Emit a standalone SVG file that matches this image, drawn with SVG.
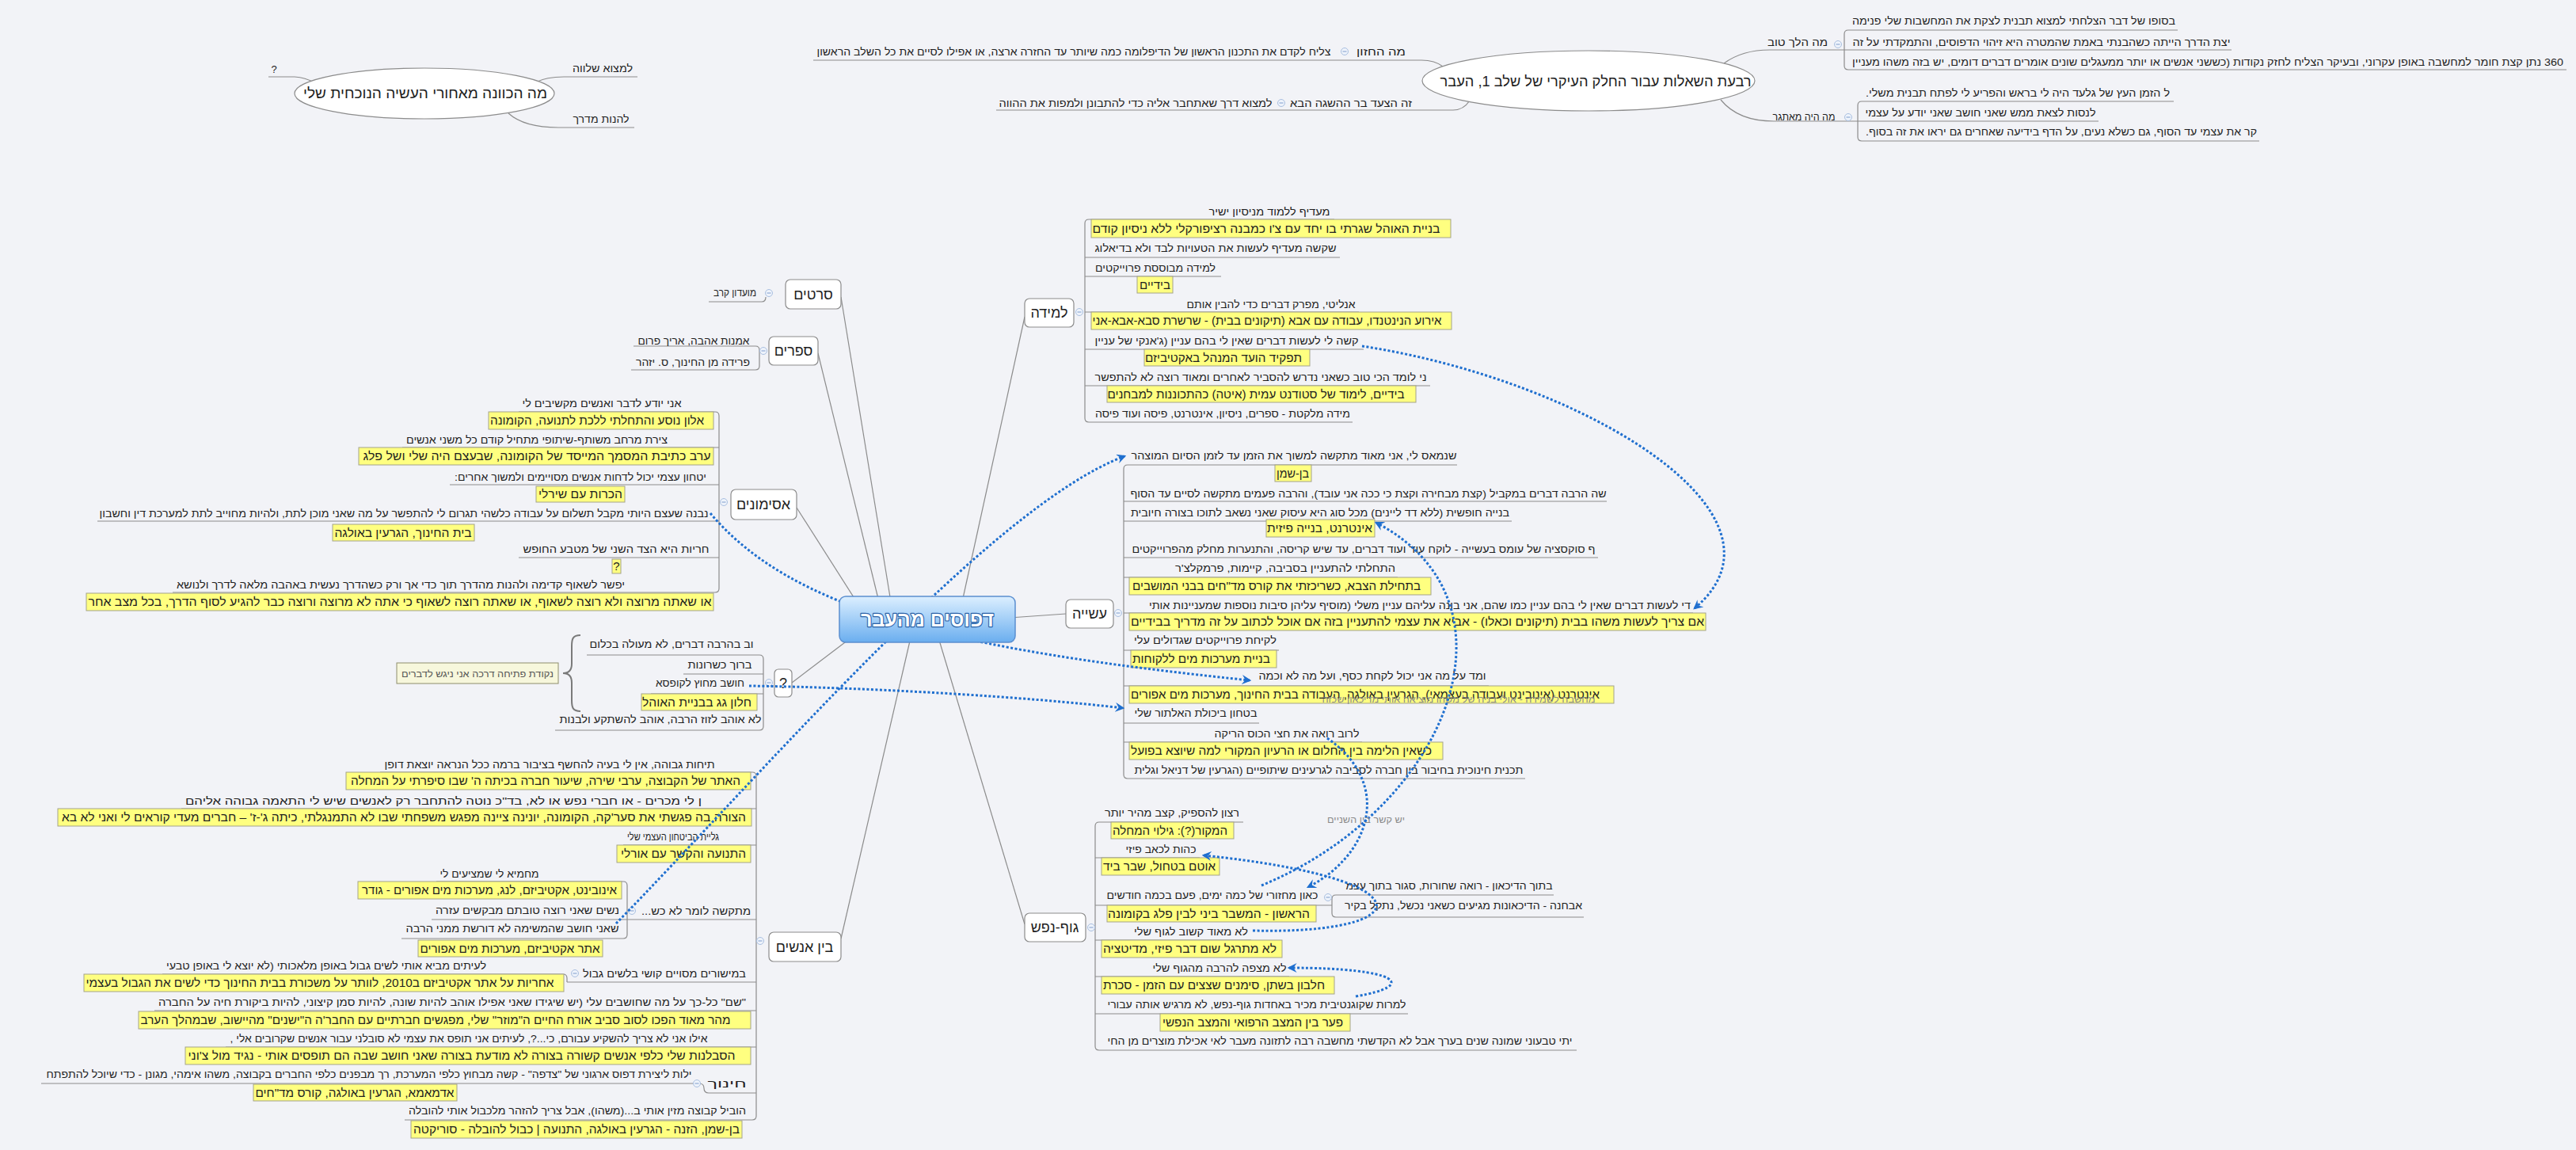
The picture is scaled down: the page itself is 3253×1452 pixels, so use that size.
<svg xmlns="http://www.w3.org/2000/svg" width="3253" height="1452" viewBox="0 0 3253 1452">
<defs>
<linearGradient id="cg" x1="0" y1="0" x2="0" y2="1">
<stop offset="0" stop-color="#dcefff"/><stop offset="1" stop-color="#6aaeef"/>
</linearGradient>
<marker id="ah" viewBox="0 0 10 10" refX="8" refY="5" markerWidth="12" markerHeight="12" markerUnits="userSpaceOnUse" orient="auto"><path d="M0,0 L10,5 L0,10 L3.5,5 Z" fill="#1f6fcf"/></marker>
<style>
.t{font-family:"Liberation Sans",Arial,sans-serif;font-size:13px;fill:#1e1e1e;text-anchor:middle;direction:rtl}
.ty{font-size:15px}
.tn{font-size:18px}
.yb{fill:#ffff80;stroke:#a3a38a;stroke-width:1}
.ul{stroke:#8c8c8c;stroke-width:1.2;fill:none}
.nb{fill:#fff;stroke:#8c8c8c;stroke-width:1.2}
.cc{fill:#eef3fb;stroke:#a9bfe0;stroke-width:1}
.ccm{stroke:#7f9ccc;stroke-width:1}
.rel{stroke:#1f6fcf;stroke-width:3;stroke-dasharray:3 2.5;fill:none}
</style>
</defs>
<rect width="3253" height="1452" fill="#f2f3f7"/>

<!-- branch lines from center -->
<g id="branch-lines" class="ul">
<path d="M1125 760 L1062 375"/>
<path d="M1110 760 L1033 446"/>
<path d="M1085 765 L1006 641"/>
<path d="M1075 805 L1000 862"/>
<path d="M1150 805 L1062 1185"/>
<path d="M1215 760 L1294 400"/>
<path d="M1275 780 L1346 775"/>
<path d="M1185 805 L1294 1167"/>
</g>

<!-- top-left ellipse -->
<g id="q-intent">
<path class="ul" d="M676 104 Q690 97 712 97 L805 97"/>
<path class="ul" d="M642 143 Q662 161 705 161 L801 161"/>
<path class="ul" d="M339 97 L372 97 Q386 98 396 104"/>
<ellipse cx="536" cy="118" rx="164" ry="32" fill="#fff" stroke="#8c8c8c" stroke-width="1.2"/>
<text class="t tn" x="537" y="124" textLength="308" lengthAdjust="spacingAndGlyphs">מה הכוונה מאחורי העשיה הנוכחית שלי</text>
<text class="t" x="761" y="90.5" textLength="76" lengthAdjust="spacingAndGlyphs">למצוא שלווה</text>
<text class="t" x="759" y="154.5" textLength="71" lengthAdjust="spacingAndGlyphs">להנות מדרך</text>
<text class="t" x="346" y="91.5">?</text>
</g>

<!-- top-center ellipse -->
<g id="q-four">
<path class="ul" d="M1027 76 L1795 76 Q1812 76 1822 84"/>
<path class="ul" d="M1258 139 L1835 139 Q1848 139 1856 127"/>
<path class="ul" d="M2177 80 Q2200 63 2235 63 L2329 63"/>
<path class="ul" d="M2173 126 Q2195 153 2240 153 L2346 153"/>
<ellipse cx="2006" cy="102" rx="210" ry="38" fill="#fff" stroke="#8c8c8c" stroke-width="1.2"/>
<text class="t tn" x="2015" y="109" textLength="393" lengthAdjust="spacingAndGlyphs">רבעת השאלות עבור החלק העיקרי של שלב 1, העבר</text>
<text class="t" x="1744" y="69.5" textLength="62" lengthAdjust="spacingAndGlyphs">מה החזון</text>
<circle class="cc" cx="1698" cy="65" r="4.5"/><path class="ccm" d="M1695.5 65 H1700.5"/>
<text class="t" x="1356" y="69.5" textLength="649" lengthAdjust="spacingAndGlyphs">צליח לקדם את התכנון הראשון של הדיפלומה כמה שיותר עד החזרה ארצה, או אפילו לסיים את כל השלב הראשון</text>
<text class="t" x="1706" y="134.5" textLength="154" lengthAdjust="spacingAndGlyphs">זה הצעד  בר ההשגה הבא</text>
<circle class="cc" cx="1618" cy="130" r="4.5"/><path class="ccm" d="M1615.5 130 H1620.5"/>
<text class="t" x="1434" y="134.5" textLength="345" lengthAdjust="spacingAndGlyphs">למצוא דרך שאתחבר אליה כדי להתבונן ולמפות את ההווה</text>
<path class="ul" d="M2750 38 L2334 38 Q2329 38 2329 43 L2329 83 Q2329 88 2334 88 L3241 88"/>
<path class="ul" d="M2329 63 L2818 63"/>
<text class="t" x="2270" y="57.5" textLength="76" lengthAdjust="spacingAndGlyphs">מה הלך טוב</text>
<circle class="cc" cx="2321" cy="56" r="4.5"/><path class="ccm" d="M2318.5 56 H2323.5"/>
<text class="t" x="2543" y="31" textLength="408" lengthAdjust="spacingAndGlyphs">בסופו של דבר הצלחתי למצוא תבנית לצקת את המחשבות שלי פנימה</text>
<text class="t" x="2578" y="57.5" textLength="477" lengthAdjust="spacingAndGlyphs">יצת הדרך הייתה כשהבנתי באמת שהמטרה היא זיהוי הדפוסים, והתמקדתי על זה</text>
<text class="t" x="2788" y="83" textLength="898" lengthAdjust="spacingAndGlyphs">360 נתן קצת חומר למחשבה באופן עקרוני, ובעיקר הצליח לחזק נקודות (כששני אנשים או יותר ממעגלים שונים אומרים דברים דומים, יש בזה משהו מעניין</text>
<path class="ul" d="M2745 128 L2351 128 Q2346 128 2346 133 L2346 173 Q2346 178 2351 178 L2853 178"/>
<path class="ul" d="M2346 153 L2650 153"/>
<text class="t" x="2278" y="151.5" textLength="79" lengthAdjust="spacingAndGlyphs">מה היה מאתגר</text>
<circle class="cc" cx="2334" cy="148" r="4.5"/><path class="ccm" d="M2331.5 148 H2336.5"/>
<text class="t" x="2548" y="121.5" textLength="384" lengthAdjust="spacingAndGlyphs">ל הזמן העץ של גלעד היה לי בראש והפריע לי לפתח תבנית משלי.</text>
<text class="t" x="2501" y="146.5" textLength="291" lengthAdjust="spacingAndGlyphs">לנסות לצאת ממש שאני חושב שאני יודע על עצמי</text>
<text class="t" x="2603" y="170.5" textLength="494" lengthAdjust="spacingAndGlyphs">קר את עצמי עד הסוף, גם כשלא נעים, על הדף בידיעה שאחרים גם יראו את זה בסוף.</text>
</g>

<!-- סרטים -->
<g id="n-films">
<path class="ul" d="M895 381 L962 381 Q967 381 967 375"/>
<rect class="nb" x="992" y="353" width="70" height="37" rx="6"/>
<text class="t tn" x="1027" y="378">סרטים</text>
<circle class="cc" cx="971" cy="370" r="4.5"/><path class="ccm" d="M968.5 370 H973.5"/>
<text class="t" x="928" y="373.5" textLength="54" lengthAdjust="spacingAndGlyphs">מועדון קרב</text>
</g>

<!-- ספרים -->
<g id="n-books">
<path class="ul" d="M800 437 L954 437 Q959 437 959 442 L959 462 Q959 467 954 467 L797 467"/>
<rect class="nb" x="971" y="425" width="62" height="36" rx="6"/>
<text class="t tn" x="1002" y="449">ספרים</text>
<circle class="cc" cx="964" cy="443" r="4.5"/><path class="ccm" d="M961.5 443 H966.5"/>
<text class="t" x="876" y="434.5" textLength="141" lengthAdjust="spacingAndGlyphs">אמנות אהבה, אריך פרום</text>
<text class="t" x="875" y="461.5" textLength="144" lengthAdjust="spacingAndGlyphs">פרידה מן החינוך, ס. יזהר</text>
</g>

<!-- אסימונים -->
<g id="n-tokens">
<path class="ul" d="M655 520 L903 520 Q908 520 908 525 L908 743 Q908 748 903 748 L218 748"/>
<path class="ul" d="M508 565 L908 565 M568 612 L908 612 M123 658 L908 658 M655 704 L908 704"/>
<rect class="nb" x="923" y="618" width="83" height="38" rx="6"/>
<text class="t tn" x="964" y="643">אסימונים</text>
<circle class="cc" cx="914" cy="634" r="4.5"/><path class="ccm" d="M911.5 634 H916.5"/>
<text class="t" x="760" y="513.5" textLength="201" lengthAdjust="spacingAndGlyphs">אני יודע לדבר ואנשים מקשיבים לי</text>
<rect class="yb" x="617" y="520" width="284" height="22"/>
<text class="t ty" x="754" y="536" textLength="270" lengthAdjust="spacingAndGlyphs">אלון נוסע והתחלתי ללכת לתנועה, הקומונה</text>
<text class="t" x="678" y="559.5" textLength="330" lengthAdjust="spacingAndGlyphs">צירת מרחב משותף-שיתופי מתחיל קודם כל משני אנשים</text>
<rect class="yb" x="453" y="565" width="448" height="22"/>
<text class="t ty" x="678" y="581" textLength="439" lengthAdjust="spacingAndGlyphs">ערב כתיבת המסמך המייסד של הקומונה, שבעצם היה שלי ושל פלג</text>
<text class="t" x="733" y="606.5" textLength="318" lengthAdjust="spacingAndGlyphs">יטחון עצמי יכול לדחות אנשים מסויימים ולמשוך אחרים:</text>
<rect class="yb" x="677" y="614" width="112" height="20"/>
<text class="t ty" x="733" y="629" textLength="106" lengthAdjust="spacingAndGlyphs">הכרות עם שירלי</text>
<text class="t" x="510" y="652.5" textLength="769" lengthAdjust="spacingAndGlyphs">נבנה שעצם היותי מקבל תשלום על עבודה כלשהי תגרום לי להתפשר על מה שאני מוכן לתת, ולהיות מחוייב לתת למערכת דין וחשבון</text>
<rect class="yb" x="420" y="662" width="179" height="21"/>
<text class="t ty" x="509" y="677.5" textLength="173" lengthAdjust="spacingAndGlyphs">בית החינוך, הגרעין באולגה</text>
<text class="t" x="778" y="697.5" textLength="235" lengthAdjust="spacingAndGlyphs">חריות היא הצד השני של מטבע החופש</text>
<rect class="yb" x="773" y="706" width="11" height="18"/>
<text class="t ty" x="778.5" y="720">?</text>
<text class="t" x="506" y="742.5" textLength="566" lengthAdjust="spacingAndGlyphs">יפשר לשאוף קדימה ולהנות מהדרך תוך כדי אך ורק כשהדרך נעשית באהבה מלאה לדרך ולנושא</text>
<rect class="yb" x="109" y="749" width="792" height="22"/>
<text class="t ty" x="505" y="765" textLength="787" lengthAdjust="spacingAndGlyphs">או שאתה מרוצה ולא רוצה לשאוף, או שאתה רוצה לשאוף כי אתה לא מרוצה ורוצה כבר להגיע לסוף הדרך, בכל מצב אחר</text>
</g>

<!-- ? -->
<g id="n-question">
<path class="ul" d="M741 827 L959 827 Q964 827 964 832 L964 917 Q964 922 959 922 L701 922"/>
<path class="ul" d="M863 851 L964 851 M822 876 L964 876"/>
<rect class="nb" x="978" y="845" width="22" height="35" rx="5"/>
<text class="t tn" x="989" y="869">?</text>
<circle class="cc" cx="971" cy="862" r="4.5"/><path class="ccm" d="M968.5 862 H973.5"/>
<text class="t" x="848" y="817.5" textLength="207" lengthAdjust="spacingAndGlyphs">וב בהרבה דברים, לא מעולה בכלום</text>
<text class="t" x="909" y="843.5" textLength="81" lengthAdjust="spacingAndGlyphs">ברוך כשרונות</text>
<text class="t" x="884" y="866.5" textLength="112" lengthAdjust="spacingAndGlyphs">חושב מחוץ לקופסא</text>
<rect class="yb" x="810" y="876" width="146" height="21"/>
<text class="t ty" x="880" y="891.5" textLength="138" lengthAdjust="spacingAndGlyphs">חלון גג בבניית האוהל</text>
<text class="t" x="834" y="912.5" textLength="255" lengthAdjust="spacingAndGlyphs">לא אוהב לזוז הרבה, אוהב להשתקע ולבנות</text>
<path d="M733 802 C723 802 722 807 722 816 L722 838 C722 846 718 850 711 850 C718 850 722 854 722 862 L722 884 C722 893 723 898 733 898" fill="none" stroke="#7a7a7a" stroke-width="2"/>
<rect x="501" y="837" width="204" height="26" fill="#f7f7dc" stroke="#8d8d6d" stroke-width="1"/>
<text class="t" x="603" y="854.5" style="font-size:12px;fill:#555" textLength="192" lengthAdjust="spacingAndGlyphs">נקודת פתיחה דרכה אני ניגש לדברים</text>
</g>

<!-- בין אנשים -->
<g id="n-people">
<path class="ul" d="M480 975 L950 975 Q955 975 955 980 L955 1409 Q955 1414 950 1414 L511 1414"/>
<path class="ul" d="M229 1021 L955 1021 M787 1067 L955 1067 M545 1161 L955 1161 M716 1240 L955 1240 M195 1276 L955 1276 M285 1322 L955 1322"/>
<path class="ul" d="M551 1113 L787 1113 Q792 1113 792 1118 L792 1180 Q792 1185 787 1185 L507 1185"/>
<path class="ul" d="M205 1230 L711 1230 Q716 1230 716 1235 L716 1240"/>
<path class="ul" d="M52 1368 L883 1368 Q889 1368 889 1374 Q889 1380 895 1380 L955 1380"/>
<rect class="nb" x="971" y="1177" width="91" height="37" rx="6"/>
<text class="t tn" x="1016" y="1202">בין אנשים</text>
<circle class="cc" cx="960" cy="1188" r="4.5"/><path class="ccm" d="M957.5 1188 H962.5"/>
<text class="t" x="694" y="969.5" textLength="417" lengthAdjust="spacingAndGlyphs">תיחות גבוהה, אין לי בעיה להחשף בציבור ברמה ככל הנראה יוצאת דופן</text>
<rect class="yb" x="437" y="975" width="511" height="22"/>
<text class="t ty" x="689" y="991" textLength="492" lengthAdjust="spacingAndGlyphs">האתר של הקבוצה, ערבי שירה, שיעור חברה בכיתה ה' שבו סיפרתי על המחלה</text>
<text class="t" x="560" y="1015.5" textLength="652" lengthAdjust="spacingAndGlyphs">ן לי מכרים - או חברי נפש או לא, בד"כ נוטה להתחבר רק לאנשים שיש לי התאמה גבוהה אליהם</text>
<rect class="yb" x="73" y="1021" width="876" height="22"/>
<text class="t ty" x="510" y="1037" textLength="864" lengthAdjust="spacingAndGlyphs">הצורה בה פגשתי את סער'קה, הקומונה, יונינה ציינה מפגש משפחתי שבו לא התמנגלתי, כיתה ג'-ז' – חברים מעדי קוראים לי ואני לא בא</text>
<text class="t" x="850" y="1060.5" textLength="116" lengthAdjust="spacingAndGlyphs">גליית הביטחון העצמי שלי</text>
<rect class="yb" x="779" y="1067" width="169" height="22"/>
<text class="t ty" x="863" y="1083" textLength="158" lengthAdjust="spacingAndGlyphs">התנועה והקשר עם אורלי</text>
<text class="t" x="879" y="1154.5" textLength="138" lengthAdjust="spacingAndGlyphs">מתקשה לומר לא כש...</text>
<circle class="cc" cx="798" cy="1150" r="4.5"/><path class="ccm" d="M795.5 1150 H800.5"/>
<text class="t" x="618" y="1107.5" textLength="125" lengthAdjust="spacingAndGlyphs">מחמיא לי שמציעים לי</text>
<rect class="yb" x="452" y="1113" width="333" height="22"/>
<text class="t ty" x="618" y="1129" textLength="322" lengthAdjust="spacingAndGlyphs">אינובינט, אקטיביזם, לנג, מערכות מים אפורים - גודר</text>
<text class="t" x="666" y="1153.5" textLength="232" lengthAdjust="spacingAndGlyphs">נשים שאני רוצה טובתם מבקשים עזרה</text>
<text class="t" x="647" y="1176.5" textLength="269" lengthAdjust="spacingAndGlyphs">שאני חושב שהמשימה לא דורשת ממני הרבה</text>
<rect class="yb" x="528" y="1187" width="233" height="21"/>
<text class="t ty" x="644" y="1202.5" textLength="227" lengthAdjust="spacingAndGlyphs">אתר אקטיביזם, מערכות מים אפורים</text>
<text class="t" x="839" y="1233.5" textLength="206" lengthAdjust="spacingAndGlyphs">במישורים מסויים קושי בלשים גבול</text>
<circle class="cc" cx="726" cy="1229" r="4.5"/><path class="ccm" d="M723.5 1229 H728.5"/>
<text class="t" x="412" y="1223.5" textLength="404" lengthAdjust="spacingAndGlyphs">לעיתים מביא אותי לשים גבול באופן מלאכותי (לא יוצא לי באופן טבעי</text>
<rect class="yb" x="106" y="1230" width="606" height="22"/>
<text class="t ty" x="404" y="1246" textLength="591" lengthAdjust="spacingAndGlyphs">אחריות על אתר אקטיביזם ב2010, לוותר על משכורת בבית החינוך כדי לשים את הגבול בעצמי</text>
<text class="t" x="571" y="1269.5" textLength="742" lengthAdjust="spacingAndGlyphs">"שם" כל-כך על מה שחושבים עלי (יש שיגידו שאני אפילו אוהב להיות שונה, להיות סמן קיצוני, להיות ביקורת חיה על החברה</text>
<rect class="yb" x="175" y="1277" width="773" height="22"/>
<text class="t ty" x="550" y="1293" textLength="745" lengthAdjust="spacingAndGlyphs">מהר מאוד הפכו לסוב סביב אורח החיים ה"מוזר" שלי, מפגשים חברתיים עם החבר'ה ה"ישנים" מהיישוב, שבמהלך הערב</text>
<text class="t" x="592" y="1315.5" textLength="603" lengthAdjust="spacingAndGlyphs">אילו אני לא צריך להשקיע עבורם, כי...?, לעיתים אני תופס את עצמי לא סובלני עבור אנשים שקרובים אלי ,</text>
<rect class="yb" x="234" y="1322" width="714" height="22"/>
<text class="t ty" x="583" y="1338" textLength="691" lengthAdjust="spacingAndGlyphs">הסבלנות שלי כלפי אנשים קשורה בצורה לא מודעת בצורה שאני חושב שבה הם תופסים אותי - נגיד מול צ'וני</text>
<text class="t" x="918" y="1372.5" textLength="49" lengthAdjust="spacingAndGlyphs">חינוך</text>
<circle class="cc" cx="880" cy="1368" r="4.5"/><path class="ccm" d="M877.5 1368 H882.5"/>
<text class="t" x="466" y="1360.5" textLength="815" lengthAdjust="spacingAndGlyphs">ילות ליצירת דפוס ארגוני של "צדפה" - קשה מבחוץ כלפי המערכת, רך מבפנים כלפי החברים בקבוצה, משהו אימהי, מגונן - כדי שיוכל להתפתח</text>
<rect class="yb" x="320" y="1369" width="257" height="21"/>
<text class="t ty" x="448" y="1384.5" textLength="251" lengthAdjust="spacingAndGlyphs">אדמאמא, הגרעין באולגה, קורס מד"חים</text>
<text class="t" x="729" y="1406.5" textLength="426" lengthAdjust="spacingAndGlyphs">הוביל קבוצה מזין אותי ב...(משהו), אבל צריך להזהר מלכבול אותי להובלה</text>
<rect class="yb" x="519" y="1415" width="418" height="22"/>
<text class="t ty" x="728" y="1431" textLength="412" lengthAdjust="spacingAndGlyphs">בן-שמן, הזנה - הגרעין באולגה, התנועה | כבול להובלה - סוריקטה</text>
</g>

<!-- למידה -->
<g id="n-learning">
<path class="ul" d="M1685 277 L1375 277 Q1370 277 1370 282 L1370 528 Q1370 533 1375 533 L1708 533"/>
<path class="ul" d="M1370 325 L1692 325 M1370 349 L1542 349 M1370 394 L1716 394 M1370 441 L1722 441 M1370 487 L1806 487"/>
<rect class="nb" x="1294" y="377" width="62" height="36" rx="6"/>
<text class="t tn" x="1325" y="401">למידה</text>
<circle class="cc" cx="1363" cy="394" r="4.5"/><path class="ccm" d="M1360.5 394 H1365.5"/>
<text class="t" x="1603" y="271.5" textLength="153" lengthAdjust="spacingAndGlyphs">מעדיף ללמוד מניסיון ישיר</text>
<rect class="yb" x="1378" y="277" width="454" height="23"/>
<text class="t ty" x="1599" y="294" textLength="439" lengthAdjust="spacingAndGlyphs">בניית האוהל שגרתי בו יחד עם צ'ו כמבנה רציפורקלי ללא ניסיון קודם</text>
<text class="t" x="1535" y="317.5" textLength="305" lengthAdjust="spacingAndGlyphs">שקשה מעדיף לעשות את הטעויות לבד ולא בדיאלוג</text>
<text class="t" x="1459" y="342.5" textLength="152" lengthAdjust="spacingAndGlyphs">למידה מבוססת פרוייקטים</text>
<rect class="yb" x="1436" y="349" width="45" height="21"/>
<text class="t ty" x="1458.5" y="364.5" textLength="39" lengthAdjust="spacingAndGlyphs">בידיים</text>
<text class="t" x="1605" y="388.5" textLength="213" lengthAdjust="spacingAndGlyphs">אנליטי, מפרק דברים כדי להבין אותם</text>
<rect class="yb" x="1378" y="394" width="455" height="22"/>
<text class="t ty" x="1600" y="410" textLength="441" lengthAdjust="spacingAndGlyphs">אירוע הנינטנדו, עבודה עם אבא (תיקונים בבית) - שרשרת סבא-אבא-אני</text>
<text class="t" x="1549" y="434.5" textLength="333" lengthAdjust="spacingAndGlyphs">קשה לי לעשות דברים שאין לי בהם עניין (ג'אנקי של עניין</text>
<rect class="yb" x="1445" y="441" width="209" height="21"/>
<text class="t ty" x="1545" y="456.5" textLength="198" lengthAdjust="spacingAndGlyphs">תפקיד הועד המנהל באקטיביזם</text>
<text class="t" x="1592" y="480.5" textLength="419" lengthAdjust="spacingAndGlyphs">ני לומד הכי טוב כשאני נדרש להסביר לאחרים ומאוד רוצה לא להתפשר</text>
<rect class="yb" x="1398" y="487" width="390" height="21"/>
<text class="t ty" x="1586" y="502.5" textLength="375" lengthAdjust="spacingAndGlyphs">בידיים, לימוד של סטודנט עמית (איטה) כהתכוננות למבחנים</text>
<text class="t" x="1544" y="526.5" textLength="322" lengthAdjust="spacingAndGlyphs">מידה מלקטת - ספרים, ניסיון, אינטרנט, פיסה ועוד פיסה</text>
</g>

<!-- עשייה -->
<g id="n-doing">
<path class="ul" d="M1840 587 L1424 587 Q1419 587 1419 592 L1419 978 Q1419 983 1424 983 L1926 983"/>
<path class="ul" d="M1419 633 L2029 633 M1419 658 L1909 658 M1419 704 L2018 704 M1419 729 L1765 729 M1419 774 L2138 774 M1419 821 L1615 821 M1419 866 L1880 866 M1419 913 L1590 913 M1419 937 L1720 937"/>
<rect class="nb" x="1346" y="757" width="60" height="36" rx="6"/>
<text class="t tn" x="1376" y="781">עשייה</text>
<circle class="cc" cx="1412" cy="774" r="4.5"/><path class="ccm" d="M1409.5 774 H1414.5"/>
<text class="t" x="1634" y="579.5" textLength="411" lengthAdjust="spacingAndGlyphs">שנמאס לי, אני מאוד מתקשה למשוך את הזמן עד לזמן הסיום המוצהר</text>
<rect class="yb" x="1610" y="587" width="46" height="21"/>
<text class="t ty" x="1632.5" y="602.5" textLength="41" lengthAdjust="spacingAndGlyphs">בן-שמן</text>
<text class="t" x="1728" y="627.5" textLength="601" lengthAdjust="spacingAndGlyphs">שה הרבה דברים במקביל (קצת מבחירה וקצת כי ככה אני עובד), והרבה פעמים מתקשה לסיים עד הסוף</text>
<text class="t" x="1667" y="651.5" textLength="478" lengthAdjust="spacingAndGlyphs">בנייה חופשית (ללא דד ליינים) מכל סוג היא עיסוק שאני נשאב לתוכו בצורה חיובית</text>
<rect class="yb" x="1599" y="656" width="137" height="22"/>
<text class="t ty" x="1666.5" y="672" textLength="133" lengthAdjust="spacingAndGlyphs">אינטרנט, בנייה פיזית</text>
<text class="t" x="1722" y="697.5" textLength="585" lengthAdjust="spacingAndGlyphs">ף סוקסציה של עומס בעשייה - לוקח עוד ועוד דברים, עד שיש קריסה, והתנערות מחלק מהפרוייקטים</text>
<text class="t" x="1623" y="721.5" textLength="278" lengthAdjust="spacingAndGlyphs">התחלתי להתעניין בסביבה, קיימות, פרמקלצ'ר</text>
<rect class="yb" x="1426" y="729" width="381" height="22"/>
<text class="t ty" x="1612" y="745" textLength="364" lengthAdjust="spacingAndGlyphs">בתחילת הצבא, כשריכזתי את קורס מד"חים בבני המושבים</text>
<text class="t" x="1793" y="768.5" textLength="684" lengthAdjust="spacingAndGlyphs">די לעשות דברים שאין לי בהם עניין כמו שהם, אני בונה עליהם עניין משלי (מוסיף עליהן סיבות נוספות שמעניינות אותי</text>
<rect class="yb" x="1426" y="774" width="728" height="22"/>
<text class="t ty" x="1790" y="790" textLength="724" lengthAdjust="spacingAndGlyphs">אם צריך לעשות משהו בבית (תיקונים וכאלו) - אביא את עצמי להתעניין בזה אם אוכל לכתוב על זה מדריך בבידיים</text>
<text class="t" x="1522" y="812.5" textLength="180" lengthAdjust="spacingAndGlyphs">לקיחת פרוייקטים שגדולים עלי</text>
<rect class="yb" x="1428" y="821" width="184" height="22"/>
<text class="t ty" x="1517" y="837" textLength="174" lengthAdjust="spacingAndGlyphs">בניית מערכות מים ללקוחות</text>
<text class="t" x="1733" y="857.5" textLength="287" lengthAdjust="spacingAndGlyphs">ומד על מה אני יכול לקחת כסף, ועל מה לא וכמה</text>
<rect class="yb" x="1426" y="866" width="612" height="22"/>
<text class="t ty" x="1724" y="882" textLength="592" lengthAdjust="spacingAndGlyphs">אינטרנט (אינובינט ועבודה בעצמאי), הגרעין באולגה, העבודה בבית החינוך, מערכות מים אפורים</text>
<text class="t" x="1842" y="887" style="font-size:12px;fill:#8a8a8a" textLength="345" lengthAdjust="spacingAndGlyphs">מחשבה לשמירה - אולי בניה של משהו מוציאה אותי מדיכאון שכזה</text>
<text class="t" x="1510" y="904.5" textLength="155" lengthAdjust="spacingAndGlyphs">בטחון ביכולת האלתור שלי</text>
<text class="t" x="1625" y="930.5" textLength="183" lengthAdjust="spacingAndGlyphs">לרוב רואה את חצי הכוס הריקה</text>
<rect class="yb" x="1426" y="937" width="396" height="22"/>
<text class="t ty" x="1618" y="953" textLength="380" lengthAdjust="spacingAndGlyphs">כשאין הלימה בין החלום או הרעיון המקורי למה שיוצא בפועל</text>
<text class="t" x="1678" y="976.5" textLength="491" lengthAdjust="spacingAndGlyphs">תכנית חינוכית בחיבור בין חברה לסביבה לגרעינים שיתופיים (הגרעין של דניאל וגלית</text>
</g>

<!-- גוף-נפש -->
<g id="n-body">
<path class="ul" d="M1570 1038 L1388 1038 Q1383 1038 1383 1043 L1383 1321 Q1383 1326 1388 1326 L1991 1326"/>
<path class="ul" d="M1383 1083 L1515 1083 M1383 1143 L1682 1143 M1383 1187 L1580 1187 M1383 1233 L1628 1233 M1383 1280 L1778 1280"/>
<path class="ul" d="M1962 1130 L1687 1130 Q1682 1130 1682 1135 L1682 1153 Q1682 1158 1687 1158 L2000 1158"/>
<rect class="nb" x="1294" y="1153" width="77" height="36" rx="6"/>
<text class="t tn" x="1332" y="1177">גוף-נפש</text>
<circle class="cc" cx="1378" cy="1171" r="4.5"/><path class="ccm" d="M1375.5 1171 H1380.5"/>
<text class="t" x="1480" y="1030.5" textLength="170" lengthAdjust="spacingAndGlyphs">רצון להספיק, קצב מהיר יותר</text>
<rect class="yb" x="1403" y="1038" width="155" height="21"/>
<text class="t ty" x="1477.5" y="1053.5" textLength="145" lengthAdjust="spacingAndGlyphs">המקור(?): גילוי המחלה</text>
<text class="t" x="1466" y="1076.5" textLength="89" lengthAdjust="spacingAndGlyphs">כהות לכאב פיזי</text>
<rect class="yb" x="1391" y="1083" width="149" height="22"/>
<text class="t ty" x="1464" y="1099" textLength="142" lengthAdjust="spacingAndGlyphs">אוטם בטחול, שבר ביד</text>
<text class="t" x="1531" y="1134.5" textLength="267" lengthAdjust="spacingAndGlyphs">כאון מחזורי של כמה ימים, פעם בכמה חודשים</text>
<circle class="cc" cx="1677" cy="1133" r="4.5"/><path class="ccm" d="M1674.5 1133 H1679.5"/>
<text class="t" x="1830" y="1122.5" textLength="261" lengthAdjust="spacingAndGlyphs">בתוך הדיכאון - רואה שחורות, סגור בתוך עצמ</text>
<text class="t" x="1848" y="1147.5" textLength="300" lengthAdjust="spacingAndGlyphs">אבחנה - הדיכאונות מגיעים כשאני נכשל, נתקל בקיר</text>
<rect class="yb" x="1398" y="1143" width="264" height="21"/>
<text class="t ty" x="1526.5" y="1158.5" textLength="255" lengthAdjust="spacingAndGlyphs">הראשון - המשבר ביני לבין פלג בקומונה</text>
<text class="t" x="1504" y="1180.5" textLength="144" lengthAdjust="spacingAndGlyphs">לא מאוד קשוב לגוף שלי</text>
<rect class="yb" x="1391" y="1187" width="228" height="22"/>
<text class="t ty" x="1502.5" y="1203" textLength="219" lengthAdjust="spacingAndGlyphs">לא מתרגל שום דבר פיזי, מדיטציה</text>
<text class="t" x="1540" y="1226.5" textLength="169" lengthAdjust="spacingAndGlyphs">לא מצפה להרבה מהגוף שלי</text>
<rect class="yb" x="1391" y="1233" width="294" height="22"/>
<text class="t ty" x="1533" y="1249" textLength="280" lengthAdjust="spacingAndGlyphs">חלבון בשתן, סימנים שצצים עם הזמן - סכרת</text>
<text class="t" x="1587" y="1272.5" textLength="377" lengthAdjust="spacingAndGlyphs">למרות שקוגנטיבית מכיר באחדות גוף-נפש, לא מרגיש אותה עבורי</text>
<rect class="yb" x="1465" y="1280" width="240" height="22"/>
<text class="t ty" x="1582" y="1296" textLength="228" lengthAdjust="spacingAndGlyphs">פער בין המצב הרפואי והמצב הנפשי</text>
<text class="t" x="1692" y="1318.5" textLength="587" lengthAdjust="spacingAndGlyphs">יתי טבעוני שמונה שנים בערך אבל לא הקדשתי מחשבה רבה לתזונה מעבר לאי אכילת מוצרים מן החי</text>
</g>

<!-- relationship connectors -->
<g id="connectors">
<path class="rel" d="M897 648 C1000 770 1200 820 1578 859" marker-end="url(#ah)"/>
<path class="rel" d="M946 866 C1100 868 1300 880 1418 894" marker-end="url(#ah)"/>
<path class="rel" d="M778 1166 C960 980 1250 640 1420 576" marker-end="url(#ah)"/>
<path class="rel" d="M1720 437 C2000 480 2280 650 2140 768" marker-end="url(#ah)"/>
<path class="rel" d="M1593 1118 C1830 1020 1930 760 1738 660" marker-end="url(#ah)"/>
<path class="rel" d="M1676 932 C1760 990 1730 1080 1652 1120" marker-end="url(#ah)"/>
<path class="rel" d="M1582 1175 C1790 1180 1810 1110 1520 1080" marker-end="url(#ah)"/>
<path class="rel" d="M1712 1258 C1790 1245 1770 1222 1628 1222" marker-end="url(#ah)"/>
<text class="t" x="1725" y="1039" style="font-size:11.5px;fill:#8a8a8a" textLength="98" lengthAdjust="spacingAndGlyphs">יש קשר בין השניים</text>
</g>

<!-- center -->
<g id="n-center">
<rect x="1060" y="753" width="222" height="58" rx="8" fill="url(#cg)" stroke="#5b8fd0" stroke-width="1.5"/>
<text class="t" x="1171" y="791" textLength="168" lengthAdjust="spacingAndGlyphs" style="font-size:26px;font-weight:bold;fill:#fff;stroke:#2a62a8;stroke-width:2.4;paint-order:stroke;stroke-linejoin:round">דפוסים מהעבר</text>
</g>
</svg>
